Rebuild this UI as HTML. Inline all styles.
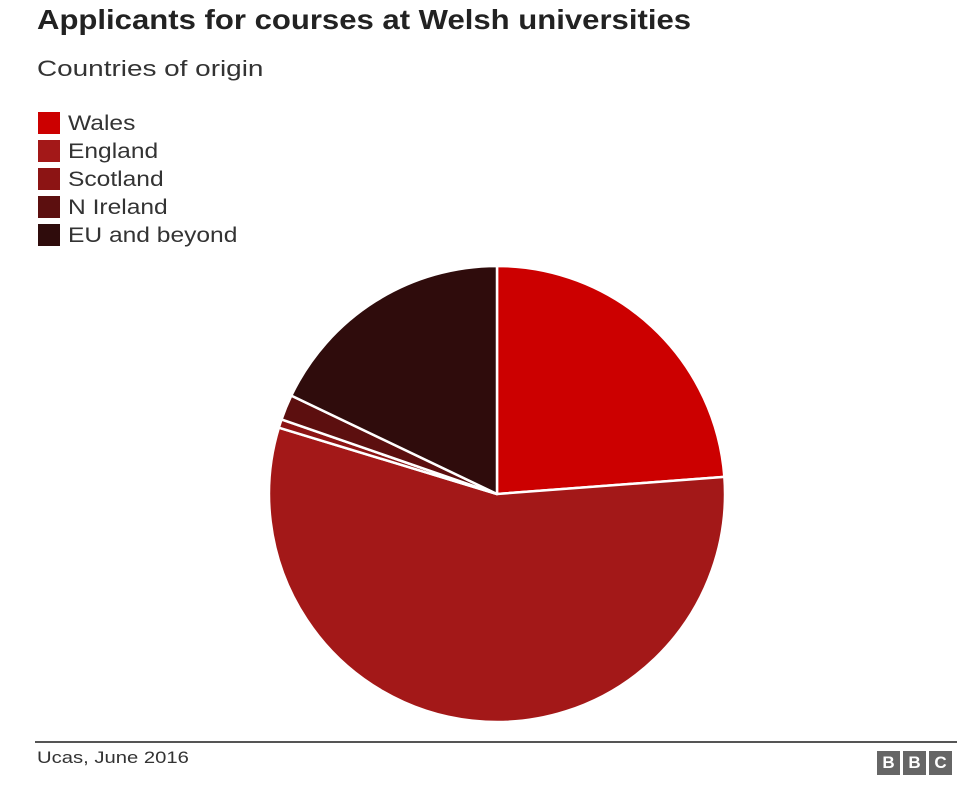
<!DOCTYPE html>
<html><head><meta charset="utf-8"><style>
body{margin:0;background:#fff;width:976px;height:789px;overflow:hidden;font-family:"Liberation Sans",Arial,sans-serif;position:relative}
.t{position:absolute;left:37px;top:4px;font-size:28px;font-weight:bold;color:#222;transform-origin:0 0;transform:scaleX(1.11);white-space:nowrap}
.s{position:absolute;left:37px;top:56px;font-size:22.5px;color:#333;transform-origin:0 0;transform:scaleX(1.24);white-space:nowrap}
.lg{position:absolute;left:38px;font-size:21px;color:#333;height:24px;line-height:24px;white-space:nowrap}
.lg span{display:inline-block;width:22px;height:22px;vertical-align:top;margin-right:8px}
.lg b{font-weight:normal;display:inline-block;transform-origin:0 0;transform:scaleX(1.17)}
.ft{position:absolute;left:35px;top:741px;width:922px;border-top:2px solid #555}
.src{position:absolute;left:37px;top:748px;font-size:17px;color:#333;transform-origin:0 0;transform:scaleX(1.19);white-space:nowrap}
.bbc{position:absolute;top:751px;width:23px;height:24px;background:#666;color:#fff;font-weight:bold;font-size:17px;text-align:center;line-height:24px}
</style></head><body>
<div class="t">Applicants for courses at Welsh universities</div>
<div class="s">Countries of origin</div>
<div id="legend"></div>
<svg id="pie" width="976" height="789" style="position:absolute;left:0;top:0"></svg>
<div class="ft"></div>
<div class="src">Ucas, June 2016</div>
<div class="bbc" style="left:877px">B</div>
<div class="bbc" style="left:903px">B</div>
<div class="bbc" style="left:929px">C</div>
<script>
const categories=["Wales","England","Scotland","N Ireland","EU and beyond"];
const values=[23.8,55.9,0.6,1.8,17.9];
const colors=["#cc0000","#a31818","#8c1414","#5c0f0f","#2f0c0c"];
const cx=497,cy=494,r=228;
const svg=document.getElementById('pie');
const ns="http://www.w3.org/2000/svg";
const total=values.reduce((a,b)=>a+b,0);
function pt(a){return [cx+r*Math.sin(a),cy-r*Math.cos(a)];}
let acc=0;
values.forEach((v,i)=>{
  const a0=acc/total*2*Math.PI; acc+=v; const a1=acc/total*2*Math.PI;
  const p0=pt(a0),p1=pt(a1);
  const large=(a1-a0)>Math.PI?1:0;
  const p=document.createElementNS(ns,'path');
  p.setAttribute('d',`M${cx},${cy}L${p0[0]},${p0[1]}A${r},${r} 0 ${large} 1 ${p1[0]},${p1[1]}Z`);
  p.setAttribute('fill',colors[i]);p.setAttribute('stroke','#fff');p.setAttribute('stroke-width','2.5');p.setAttribute('stroke-linejoin','round');
  
  
  svg.appendChild(p);
});
const lg=document.getElementById('legend');
categories.forEach((c,i)=>{
  const d=document.createElement('div');d.className='lg';d.style.top=(112+i*28)+'px';
  d.innerHTML='<span style="background:'+colors[i]+'"></span><b>'+c+'</b>';
  
  
  lg.appendChild(d);
});
</script>
</body></html>
